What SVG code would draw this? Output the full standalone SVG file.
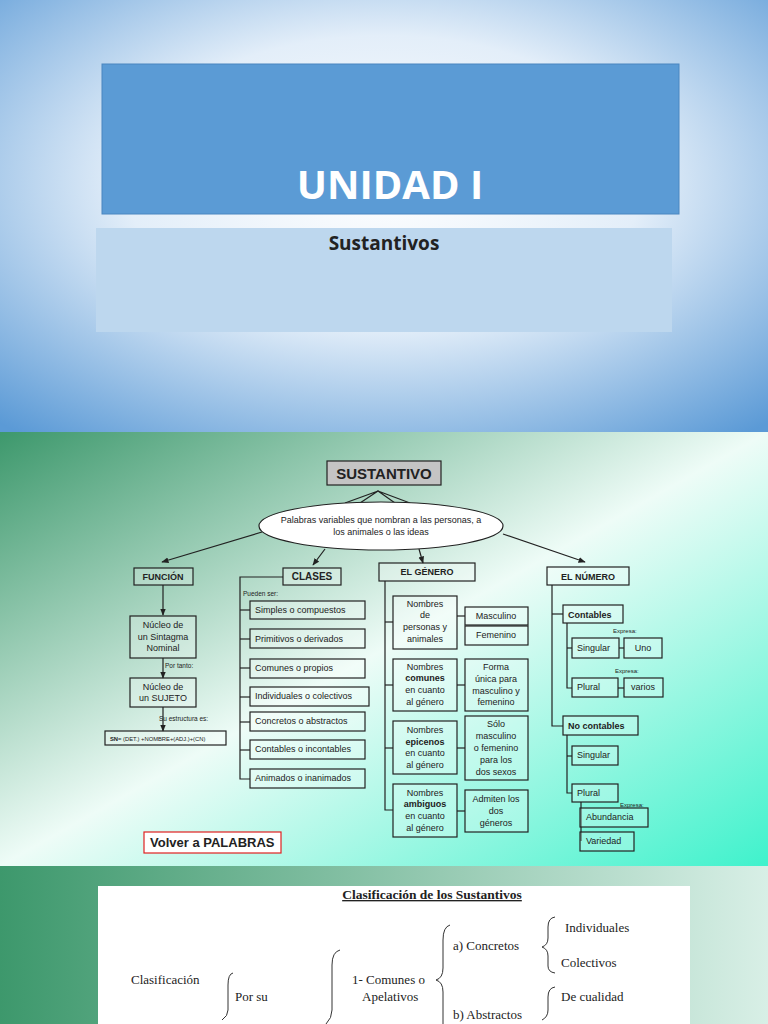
<svg xmlns="http://www.w3.org/2000/svg" width="768" height="1024" viewBox="0 0 768 1024">
<defs>
<radialGradient id="bg1" cx="0.5" cy="0.42" r="0.75">
<stop offset="0" stop-color="#ffffff"/><stop offset="0.45" stop-color="#e3eef9"/><stop offset="1" stop-color="#5b9ad6"/>
</radialGradient>
<linearGradient id="bg2" x1="0" y1="0" x2="1" y2="1">
<stop offset="0" stop-color="#3d986c"/><stop offset="0.5" stop-color="#eefcf7"/><stop offset="1" stop-color="#3ff2cc"/>
</linearGradient>
<linearGradient id="bg3" x1="0" y1="0" x2="1" y2="0">
<stop offset="0" stop-color="#3d986c"/><stop offset="1" stop-color="#d8efe6"/>
</linearGradient>
<marker id="ar" viewBox="0 0 10 10" refX="9" refY="5" markerWidth="6" markerHeight="6" orient="auto"><path d="M0,1 L10,5 L0,9 z" fill="#222"/></marker>
</defs>
<style>
.b{fill:#ffffff;fill-opacity:0.25;stroke:#222;stroke-width:1.2}
.t{font-family:"Liberation Sans",Arial,sans-serif;font-size:9px;fill:#222}
.h{font-family:"Liberation Sans",Arial,sans-serif;font-size:9px;font-weight:bold;fill:#222}
.s{font-family:"Liberation Sans",Arial,sans-serif;font-size:6.5px;fill:#222}
.c line,.c path,.c polyline{stroke:#222;stroke-width:1.2;fill:none}
.r{font-family:"Liberation Serif","Times New Roman",serif;font-size:13px;fill:#222}
.br{stroke:#333;stroke-width:1;fill:none}
</style>
<rect x="0" y="0" width="768" height="432" fill="url(#bg1)"/>
<g id="title"><rect x="102" y="64" width="577" height="150" fill="#5b9bd5" stroke="#4a86c0"/>
<text x="390" y="199" text-anchor="middle" font-family="'Open Sans',sans-serif" font-size="40" font-weight="bold" fill="#fff">UNIDAD I</text></g>
<g id="subtitle"><rect x="96" y="228" width="576" height="104" fill="#bdd7ee"/>
<text x="384" y="250" text-anchor="middle" font-family="'Open Sans',sans-serif" font-size="19" font-weight="bold" fill="#222">Sustantivos</text></g>

<rect x="0" y="432" width="768" height="434" fill="url(#bg2)"/>
<g class="c" id="connectors">
<polyline points="345,503 378,491 360,503"/><polyline points="395,503 378,491 410,503"/>
<line x1="262" y1="532" x2="162" y2="562" marker-end="url(#ar)"/>
<line x1="325" y1="549" x2="313" y2="565" marker-end="url(#ar)"/>
<line x1="419" y1="549" x2="423" y2="563" marker-end="url(#ar)"/>
<line x1="503" y1="534" x2="585" y2="562" marker-end="url(#ar)"/>
<line x1="163" y1="585" x2="163" y2="615" marker-end="url(#ar)"/>
<line x1="163" y1="658" x2="163" y2="678" marker-end="url(#ar)"/>
<line x1="163" y1="707" x2="163" y2="731" marker-end="url(#ar)"/>
<polyline points="283,577 240,577 240,779 250,779"/>
<line x1="240" y1="610" x2="250" y2="610"/><line x1="240" y1="639" x2="250" y2="639"/><line x1="240" y1="668" x2="250" y2="668"/><line x1="240" y1="697" x2="250" y2="697"/><line x1="240" y1="722" x2="250" y2="722"/><line x1="240" y1="750" x2="250" y2="750"/>
<polyline points="385,581 385,810 393,810"/>
<line x1="385" y1="622" x2="393" y2="622"/><line x1="385" y1="685" x2="393" y2="685"/><line x1="385" y1="748" x2="393" y2="748"/>
<line x1="457" y1="616" x2="465" y2="616"/><line x1="457" y1="685" x2="465" y2="685"/><line x1="457" y1="748" x2="465" y2="748"/><line x1="457" y1="811" x2="465" y2="811"/>
<polyline points="552,585 552,726 563,726"/><line x1="552" y1="614" x2="563" y2="614"/>
<polyline points="567,623 567,688 572,688"/><line x1="567" y1="648" x2="572" y2="648"/>
<line x1="619" y1="648" x2="624" y2="648"/><line x1="618" y1="688" x2="624" y2="688"/>
<polyline points="567,735 567,793 572,793"/><line x1="567" y1="756" x2="572" y2="756"/>
<polyline points="581,802 581,841"/>
</g>
<g id="sustantivo"><rect x="327" y="461" width="114" height="24" fill="#c4c4c4" stroke="#222" stroke-width="1.2"/><text x="384" y="479" text-anchor="middle" class="h" style="font-size:15px">SUSTANTIVO</text></g>
<g id="def"><ellipse cx="381" cy="526" rx="122" ry="24" fill="#fff" stroke="#222" stroke-width="1.2"/><text x="381" y="523" text-anchor="middle" class="t">Palabras variables que nombran a las personas, a</text><text x="381" y="535" text-anchor="middle" class="t">los animales o las ideas</text></g>
<g id="funcion"><rect class="b" x="134" y="568" width="59" height="17"/><text x="163" y="580" text-anchor="middle" class="h">FUNCIÓN</text></g>
<g id="clases"><rect class="b" x="283" y="568" width="58" height="17"/><text x="312" y="580" text-anchor="middle" class="h" style="font-size:10px">CLASES</text></g>
<g id="genero"><rect class="b" x="379" y="563" width="96" height="18"/><text x="427" y="575" text-anchor="middle" class="h">EL GÉNERO</text></g>
<g id="numero"><rect class="b" x="547" y="567" width="82" height="18"/><text x="588" y="580" text-anchor="middle" class="h">EL NÚMERO</text></g>
<g id="f1"><rect class="b" x="130" y="616" width="66" height="42"/><text x="163" y="628" text-anchor="middle" class="t">Núcleo de</text><text x="163" y="640" text-anchor="middle" class="t">un Sintagma</text><text x="163" y="651" text-anchor="middle" class="t">Nominal</text></g>
<text x="165" y="668" class="s">Por tanto:</text>
<g id="f2"><rect class="b" x="130" y="678" width="66" height="29"/><text x="163" y="690" text-anchor="middle" class="t">Núcleo de</text><text x="163" y="701" text-anchor="middle" class="t">un SUJETO</text></g>
<text x="159" y="721" class="s">Su estructura es:</text>
<g id="f3"><rect class="b" x="105" y="731" width="121" height="14"/><text x="110" y="741" class="s" style="font-size:5.8px"><tspan font-weight="bold">SN=</tspan> (DET.) +NOMBRE+(ADJ.)+(CN)</text></g>
<text x="243" y="596" class="s">Pueden ser:</text>
<g id="c1"><rect class="b" x="250" y="601" width="115" height="18"/><text x="255" y="613" class="t">Simples o compuestos</text></g>
<g id="c2"><rect class="b" x="250" y="629" width="115" height="19"/><text x="255" y="642" class="t">Primitivos o derivados</text></g>
<g id="c3"><rect class="b" x="250" y="659" width="115" height="19"/><text x="255" y="671" class="t">Comunes o propios</text></g>
<g id="c4"><rect class="b" x="250" y="687" width="119" height="19"/><text x="255" y="699" class="t">Individuales o colectivos</text></g>
<g id="c5"><rect class="b" x="250" y="712" width="115" height="19"/><text x="255" y="724" class="t">Concretos o abstractos</text></g>
<g id="c6"><rect class="b" x="250" y="740" width="115" height="19"/><text x="255" y="752" class="t">Contables o incontables</text></g>
<g id="c7"><rect class="b" x="250" y="769" width="115" height="19"/><text x="255" y="781" class="t">Animados o inanimados</text></g>
<g id="g1"><rect class="b" x="393" y="596" width="64" height="53"/><text class="t" text-anchor="middle"><tspan x="425" y="607">Nombres</tspan><tspan x="425" y="618">de</tspan><tspan x="425" y="630">personas y</tspan><tspan x="425" y="642">animales</tspan></text></g>
<g id="g2"><rect class="b" x="393" y="659" width="64" height="52"/><text class="t" text-anchor="middle"><tspan x="425" y="670">Nombres</tspan><tspan x="425" y="681" font-weight="bold">comunes</tspan><tspan x="425" y="693">en cuanto</tspan><tspan x="425" y="705">al género</tspan></text></g>
<g id="g3"><rect class="b" x="393" y="721" width="64" height="53"/><text class="t" text-anchor="middle"><tspan x="425" y="733">Nombres</tspan><tspan x="425" y="745" font-weight="bold">epicenos</tspan><tspan x="425" y="756">en cuanto</tspan><tspan x="425" y="768">al género</tspan></text></g>
<g id="g4"><rect class="b" x="393" y="784" width="64" height="53"/><text class="t" text-anchor="middle"><tspan x="425" y="796">Nombres</tspan><tspan x="425" y="807" font-weight="bold">ambiguos</tspan><tspan x="425" y="819">en cuanto</tspan><tspan x="425" y="831">al género</tspan></text></g>
<g id="g5"><rect class="b" x="465" y="607" width="63" height="18"/><text x="496" y="619" text-anchor="middle" class="t">Masculino</text></g>
<g id="g6"><rect class="b" x="465" y="626" width="63" height="19"/><text x="496" y="638" text-anchor="middle" class="t">Femenino</text></g>
<g id="g7"><rect class="b" x="465" y="659" width="63" height="52"/><text class="t" text-anchor="middle"><tspan x="496" y="670">Forma</tspan><tspan x="496" y="682">única para</tspan><tspan x="496" y="694">masculino y</tspan><tspan x="496" y="705">femenino</tspan></text></g>
<g id="g8"><rect class="b" x="465" y="716" width="63" height="64"/><text class="t" text-anchor="middle"><tspan x="496" y="727">Sólo</tspan><tspan x="496" y="739">masculino</tspan><tspan x="496" y="751">o femenino</tspan><tspan x="496" y="763">para los</tspan><tspan x="496" y="775">dos sexos</tspan></text></g>
<g id="g9"><rect class="b" x="465" y="790" width="63" height="42"/><text class="t" text-anchor="middle"><tspan x="496" y="802">Admiten los</tspan><tspan x="496" y="814">dos</tspan><tspan x="496" y="826">géneros</tspan></text></g>
<g id="n1"><rect class="b" x="563" y="605" width="60" height="18"/><text x="568" y="618" class="h">Contables</text></g>
<text x="613" y="633" class="s" style="font-size:6px">Expresa:</text>
<g id="n2"><rect class="b" x="572" y="638" width="47" height="20"/><text x="577" y="651" class="t">Singular</text></g>
<g id="n3"><rect class="b" x="624" y="638" width="38" height="20"/><text x="643" y="651" text-anchor="middle" class="t">Uno</text></g>
<text x="615" y="673" class="s" style="font-size:6px">Expresa:</text>
<g id="n4"><rect class="b" x="572" y="678" width="46" height="19"/><text x="577" y="690" class="t">Plural</text></g>
<g id="n5"><rect class="b" x="624" y="678" width="39" height="19"/><text x="643" y="690" text-anchor="middle" class="t">varios</text></g>
<g id="n6"><rect class="b" x="563" y="716" width="75" height="19"/><text x="568" y="729" class="h">No contables</text></g>
<g id="n7"><rect class="b" x="572" y="746" width="46" height="19"/><text x="577" y="758" class="t">Singular</text></g>
<g id="n8"><rect class="b" x="572" y="784" width="46" height="18"/><text x="577" y="796" class="t">Plural</text></g>
<text x="620" y="807" class="s" style="font-size:6px">Expresa:</text>
<g id="n9"><rect class="b" x="580" y="808" width="68" height="19"/><text x="586" y="820" class="t">Abundancia</text></g>
<g id="n10"><rect class="b" x="580" y="832" width="54" height="19"/><text x="586" y="844" class="t">Variedad</text></g>
<g id="volver"><rect x="144" y="832" width="137" height="21" fill="#fff" stroke="#e02020" stroke-width="1.2"/><text x="150" y="847" class="h" style="font-size:13px">Volver a PALABRAS</text></g>

<rect x="0" y="866" width="768" height="158" fill="url(#bg3)"/>
<rect x="98" y="886" width="592" height="138" fill="#fff"/>
<g id="clasif">
<text x="432" y="899" text-anchor="middle" class="r" style="font-size:13.5px" font-weight="bold" text-decoration="underline">Clasificación de los Sustantivos</text>
<text x="131" y="984" class="r">Clasificación</text>
<text x="235" y="1001" class="r">Por su</text>
<text x="352" y="984" class="r">1- Comunes o</text>
<text x="362" y="1001" class="r">Apelativos</text>
<text x="453" y="950" class="r">a) Concretos</text>
<text x="453" y="1019" class="r">b) Abstractos</text>
<text x="565" y="932" class="r">Individuales</text>
<text x="561" y="967" class="r">Colectivos</text>
<text x="561" y="1001" class="r">De cualidad</text>
<path class="br" d="M233,973 Q228,974 228,985 L228,1010 Q228,1016 222,1020"/>
<path class="br" d="M340,950 Q332,952 332,965 L332,1010 Q332,1018 326,1024"/>
<path class="br" d="M450,925 Q443,927 443,940 L443,968 Q443,978 436,980 Q443,982 443,992 L443,1024"/>
<path class="br" d="M555,917 Q548,918 548,927 L548,938 Q548,945 542,947 Q548,949 548,956 L548,966 Q548,972 555,973"/>
<path class="br" d="M555,987 Q548,988 548,997 L548,1010 Q548,1017 542,1020"/>
</g>
</svg>
